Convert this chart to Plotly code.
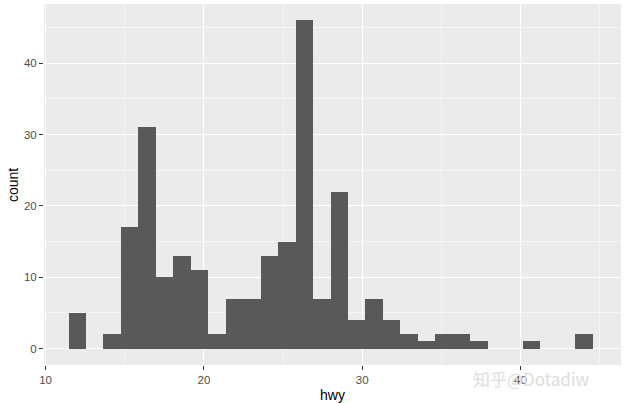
import numpy as np
import plotly.graph_objects as go

# ggplot2 histogram of mpg$hwy, 30 bins
hwy_min = 12
hwy_max = 44
n_bins = 30
counts = [5, 0, 2, 17, 31, 10, 13, 11, 2, 7, 7, 13, 15, 46, 7, 22,
          4, 7, 4, 2, 1, 2, 2, 1, 0, 0, 1, 0, 0, 2]
x_ticks = [10, 20, 30, 40]
y_ticks = [0, 10, 20, 30, 40]

binwidth = (hwy_max - hwy_min) / (n_bins - 1)
centers = [hwy_min + i * binwidth for i in range(n_bins)]

FONT = "Liberation Sans, Arial, sans-serif"
W, H = 629, 403
ML, MR, MT, MB = 44, 8, 4, 38
PH = H - MT - MB
PW = W - ML - MR

def py(pix):  # pixel y from top -> paper coord
    return (H - MB - pix) / PH

def px(pix):  # pixel x from left -> paper coord
    return (pix - ML) / PW

fig = go.Figure(go.Bar(
    x=centers, y=counts, width=binwidth,
    marker=dict(color="#595959", line=dict(width=0)),
    hoverinfo="skip",
))

fig.update_layout(
    width=W, height=H,
    margin=dict(l=ML, r=MR, t=MT, b=MB, autoexpand=False),
    paper_bgcolor="white",
    plot_bgcolor="#EBEBEB",
    bargap=0,
    showlegend=False,
    font=dict(family=FONT, color="#4D4D4D", size=11),
    xaxis=dict(
        range=[9.9, 46.35],
        tickvals=x_ticks, ticktext=[str(v) for v in x_ticks],
        showgrid=True, gridcolor="white", gridwidth=1.1,
        minor=dict(dtick=5, tick0=0, showgrid=True, gridcolor="white", gridwidth=0.5),
        zeroline=False, showline=False,
        ticks="outside", ticklen=4, tickcolor="#333333", tickwidth=1,
        tickfont=dict(size=11.5, color="#4D4D4D"),
        automargin=False,
        fixedrange=True,
    ),
    yaxis=dict(
        range=[-2.3, 48.3],
        tickvals=y_ticks, ticktext=[str(v) for v in y_ticks],
        showgrid=True, gridcolor="white", gridwidth=1.1,
        minor=dict(dtick=5, tick0=0, showgrid=True, gridcolor="white", gridwidth=0.5),
        zeroline=False, showline=False,
        ticks="outside", ticklen=4, tickcolor="#333333", tickwidth=1,
        tickfont=dict(size=11.5, color="#4D4D4D"),
        automargin=False,
        fixedrange=True,
    ),
    annotations=[
        dict(text="hwy", xref="paper", yref="paper", x=0.5, y=py(395),
             xanchor="center", yanchor="middle", showarrow=False,
             font=dict(family=FONT, size=14, color="black")),
        dict(text="count", xref="paper", yref="paper", x=px(13), y=py(185),
             xanchor="center", yanchor="middle", showarrow=False, textangle=-90,
             font=dict(family=FONT, size=14, color="black")),
        dict(text="知乎@Dotadiw", xref="paper", yref="paper",
             x=px(592), y=py(378), xanchor="right", yanchor="middle",
             showarrow=False,
             font=dict(family="Noto Sans CJK SC, Noto Sans, sans-serif", size=17, color="#DCDCDC")),
    ],
)

fig.write_html(
    "out.html",
    config={"displayModeBar": False, "staticPlot": True},
    post_script="document.body.style.margin='0';document.body.style.padding='0';",
)
